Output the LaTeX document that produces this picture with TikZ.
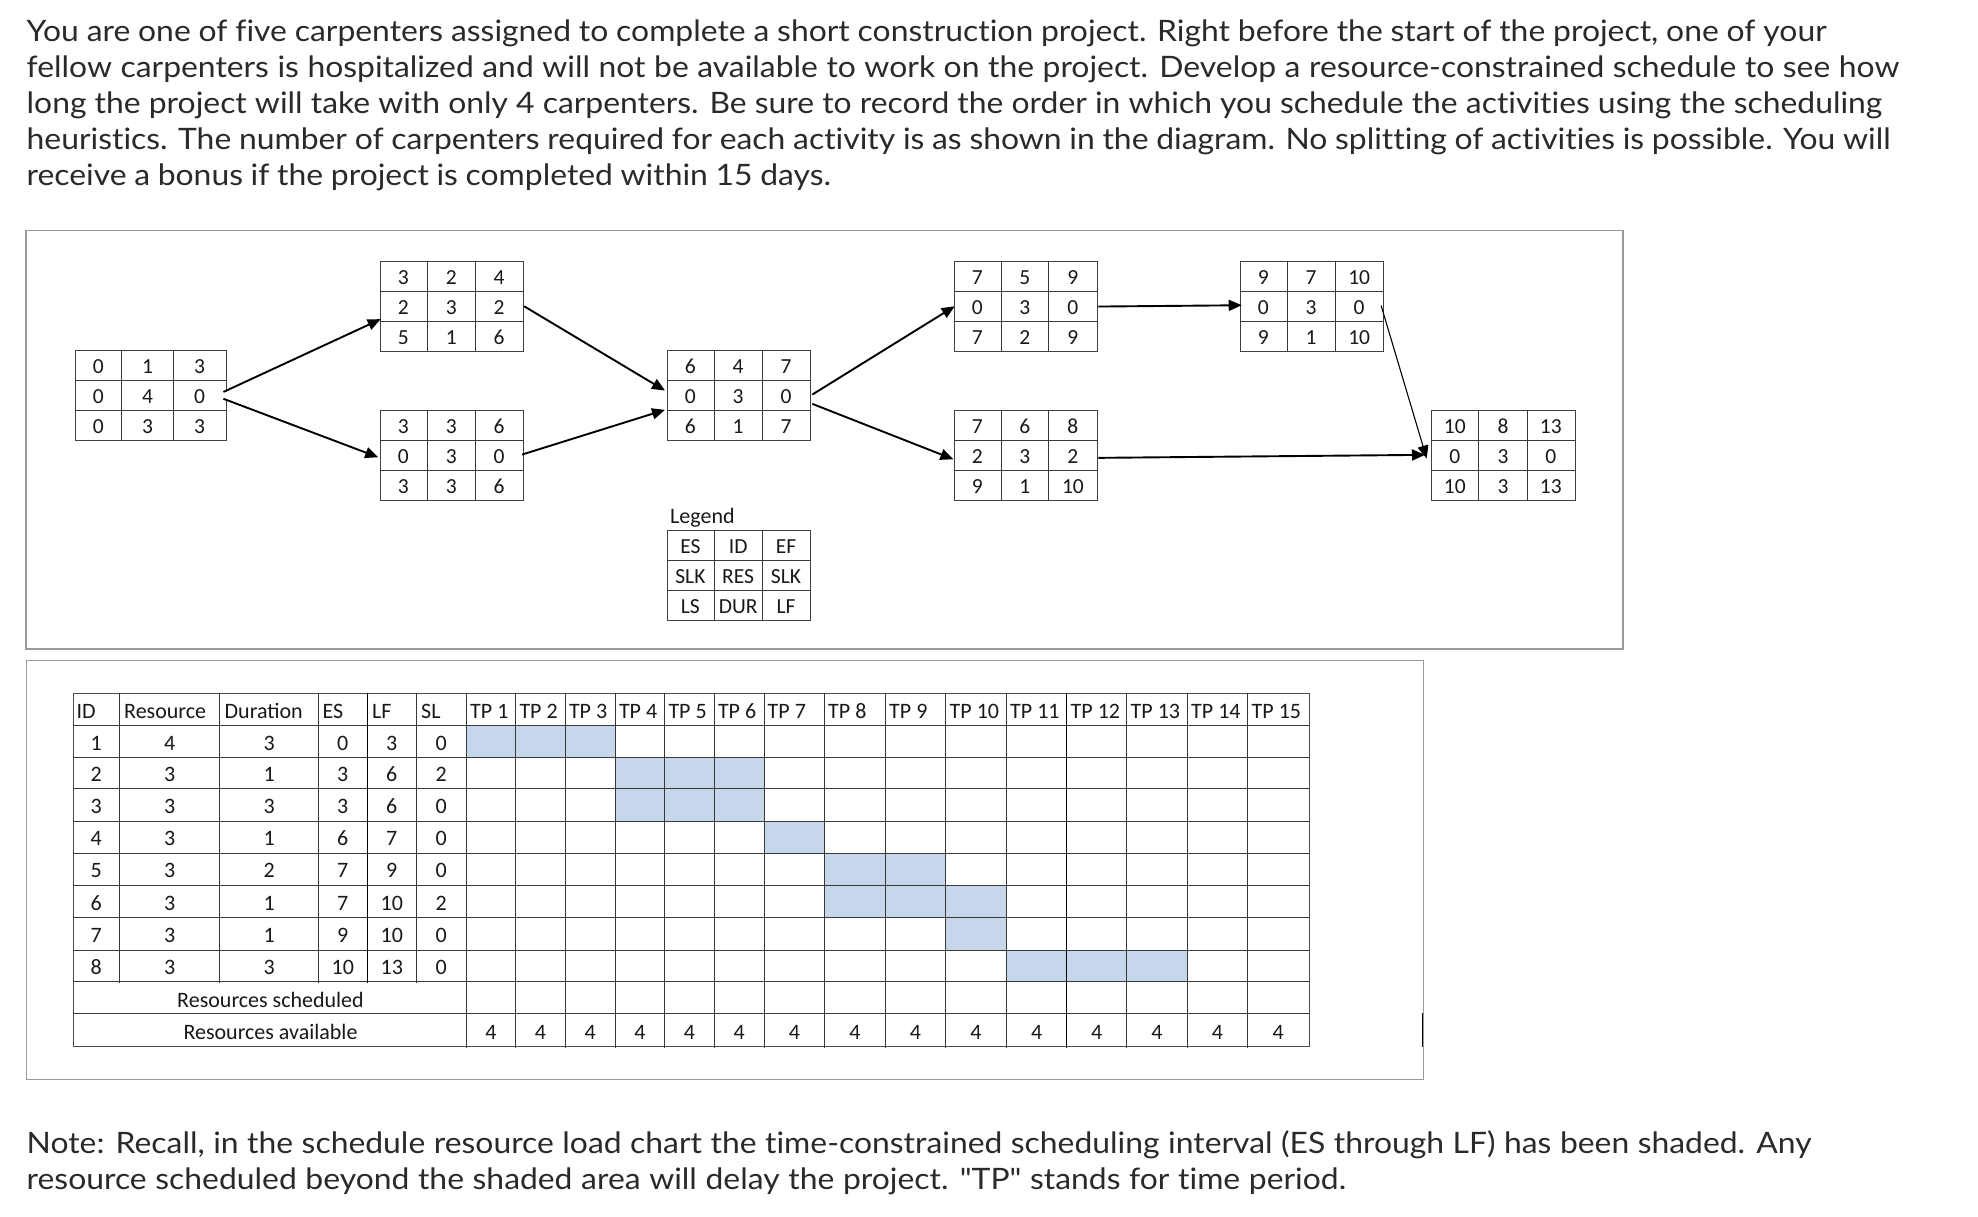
\documentclass[tikz,border=0pt]{standalone}
\usepackage{fontspec}
\setmainfont{Carlito}
\newfontfamily\bodyfont[Ligatures=NoCommon,FakeStretch=1.08]{Lato}
\usetikzlibrary{arrows.meta}
\definecolor{panelgray}{HTML}{9A9A9A}
\definecolor{schedblue}{HTML}{C6D7EC}
\definecolor{bodyink}{HTML}{2A2A2A}
\newcommand{\wordadj}[1]{\spaceskip=\dimexpr\fontdimen2\font+#1pt\relax}
\tikzset{
  panel/.style={draw=panelgray,line width=1.1pt,fill=white},
  boxframe/.style={draw=black!75,line width=1.1pt,anchor=north west,inner sep=0pt,minimum height=90pt},
  gridline/.style={draw=black!78,line width=1pt},
  heavygrid/.style={draw=black,line width=1.4pt},
  cellnum/.style={anchor=base,inner sep=0pt,font=\fontsize{21.5}{24}\selectfont,text=black!90},
  tabnum/.style={anchor=base,inner sep=0pt,font=\fontsize{22}{24}\selectfont,text=black!90},
  headtxt/.style={anchor=base west,inner sep=0pt,font=\fontsize{22}{24}\selectfont,text=black!90},
  bodyline/.style={anchor=base west,inner sep=0pt,font=\bodyfont\fontsize{29.5}{36}\selectfont,text=bodyink},
  link/.style={-{Triangle[length=13pt,width=11pt]},line width=1.9pt,draw=black},
  thinlink/.style={-{Triangle[length=13pt,width=11pt]},line width=1.1pt,draw=black},
}
% name, x0,x1,x2,x3, y0, nine values
\newcommand{\actbox}[7]{%
  \pgfmathsetmacro\bw{#5-#2}
  \node[boxframe,minimum width=\bw pt] (#1) at (#2,#6) {};
  \draw[gridline] (#3,#6) -- (#3,#6+90) (#4,#6) -- (#4,#6+90)
    (#2,#6+30) -- (#5,#6+30) (#2,#6+60) -- (#5,#6+60);
  \foreach \v [count=\k from 0] in {#7} {
    \pgfmathtruncatemacro\cc{mod(\k,3)}
    \pgfmathtruncatemacro\rr{div(\k,3)}
    \pgfmathsetmacro\xc{\cc==0?(#2+#3)/2:(\cc==1?(#3+#4)/2:(#4+#5)/2)}
    \node[cellnum] (#1-\k) at (\xc,#6+\rr*30+23) {\v};
  }
}
\begin{document}
\begin{tikzpicture}[x=1pt,y=-1pt]
\useasboundingbox (0,0) rectangle (1978,1216);
\fill[white] (0,0) rectangle (1978,1216);
% paragraph
\node[bodyline] (t1) at (26.5,41) {\wordadj{-0.33}You are one of five carpenters assigned to complete a short construction project. Right before the start of the project, one of your};
\node[bodyline] (t2) at (26.5,77) {\wordadj{0.38}fellow carpenters is hospitalized and will not be available to work on the project. Develop a resource-constrained schedule to see how};
\node[bodyline] (t3) at (26.5,113) {\wordadj{-0.05}long the project will take with only 4 carpenters. Be sure to record the order in which you schedule the activities using the scheduling};
\node[bodyline] (t4) at (26.5,149) {\wordadj{-0.45}heuristics. The number of carpenters required for each activity is as shown in the diagram. No splitting of activities is possible. You will};
\node[bodyline] (t5) at (26.5,185) {\wordadj{-0.5}receive a bonus if the project is completed within 15 days.};
\node[bodyline] (t6) at (26.5,1153) {\wordadj{0.35}Note: Recall, in the schedule resource load chart the time-constrained scheduling interval (ES through LF) has been shaded. Any};
\node[bodyline] (t7) at (26.5,1189) {\wordadj{0.47}resource scheduled beyond the shaded area will delay the project. "TP" stands for time period.};
% panels
\draw[panel] (26,230.5) rectangle (1623,649);
\draw[panel] (26.5,660.3) rectangle (1423.7,1079.3);
% network
\actbox{n1}{74.6}{121.8}{173.5}{225.8}{350}{0,1,3,0,4,0,0,3,3}
\actbox{n2}{379.5}{427.3}{475.1}{523}{261.3}{3,2,4,2,3,2,5,1,6}
\actbox{n3}{379.5}{427.3}{475.1}{523}{410}{3,3,6,0,3,0,3,3,6}
\actbox{n4}{666.5}{714.3}{762}{810}{350}{6,4,7,0,3,0,6,1,7}
\actbox{n5}{953.6}{1001}{1048.5}{1097.3}{261.3}{7,5,9,0,3,0,7,2,9}
\actbox{n6}{953.6}{1001}{1048.5}{1097.3}{410}{7,6,8,2,3,2,9,1,10}
\actbox{n7}{1239.6}{1287}{1335}{1383.3}{261.3}{9,7,10,0,3,0,9,1,10}
\actbox{n8}{1430.8}{1478.9}{1527}{1574.5}{410}{10,8,13,0,3,0,10,3,13}
\actbox{lg}{666.5}{714.3}{762}{810}{530}{ES,ID,EF,SLK,RES,SLK,LS,DUR,LF}
\node[headtxt] (lgt) at (670,523) {Legend};
% gap in the first box's edge where its two arrows leave
\draw[white,line width=1.6pt] ([yshift=3.4pt]n1.east) -- ([yshift=-3.4pt]n1.east);
% connectors
\draw[link] ([xshift=-3.5pt,yshift=3.6pt]n1.east) -- ([xshift=1.2pt,yshift=-12.3pt]n2.west);
\draw[link] ([xshift=-3.5pt,yshift=-3.2pt]n1.east) -- ([xshift=-1.3pt,yshift=-1.7pt]n3.west);
\draw[link] ([yshift=.6pt]n2.east) -- ([xshift=-1.5pt,yshift=5pt]n4.west);
\draw[link] ([xshift=-2pt,yshift=1pt]n3.east) -- ([xshift=-1.5pt,yshift=-14.3pt]n4.west);
\draw[link] ([xshift=1.2pt,yshift=1pt]n4.east) -- ([xshift=1.1pt,yshift=.6pt]n5.west);
\draw[link] ([xshift=1.2pt,yshift=-8.3pt]n4.east) -- ([xshift=-.2pt,yshift=-3.7pt]n6.west);
\draw[link] ([yshift=.3pt]n5.east) -- ([xshift=2.1pt,yshift=1.6pt]n7.west);
\draw[thinlink] ([xshift=-3.3pt,yshift=1.3pt]n7.east) -- ([xshift=-4.1pt,yshift=-3pt]n8.west);
\draw[link] ([yshift=-2.3pt]n6.east) -- ([xshift=-5.8pt,yshift=.7pt]n8.west);
% schedule shading
\fill[schedblue] (466.3,725.3) rectangle (615.3,757.3);
\fill[schedblue] (615.3,757.3) rectangle (764.3,821);
\fill[schedblue] (764.3,821) rectangle (824.6,853);
\fill[schedblue] (824.6,853) rectangle (945.7,917.7);
\fill[schedblue] (945.7,885.7) rectangle (1006.5,950);
\fill[schedblue] (1006.5,950) rectangle (1187.3,981.3);
% schedule grid
\node[draw=black!70,line width=1.4pt,anchor=north west,inner sep=0pt,minimum width=1235.9pt,minimum height=353.3pt] (tbl) at (73,692.7) {};
\foreach \y in {725.3,757.3,788.3,821,853,885.7,917.7,950,981.3,1013.7}
  \draw[gridline] (73,\y) -- (1309,\y);
\foreach \x in {119.4,219.9,318.4,416.3}
  \draw[gridline] (\x,692.7) -- (\x,983);
\draw[heavygrid] (367.3,692.7) -- (367.3,983);
\foreach \x in {466.3,515.8,565.3,615.3,664.8,714.3,764.3,824.6,885.4,945.7,1006.5,1126.6,1187.3,1247.6}
  \draw[gridline] (\x,692.7) -- (\x,1047.5);
\draw[heavygrid] (1066.7,692.7) -- (1066.7,1047.5);
\draw[heavygrid] (1422.7,1013) -- (1422.7,1047);
% header
\foreach \x/\s [count=\i] in {76.5/ID,124/Resource,224.5/Duration,322.4/ES,372/LF,421/SL,470/TP 1,519.3/TP 2,568.8/TP 3,618.8/TP 4,668.3/TP 5,717.8/TP 6,767.5/TP 7,828/TP 8,889/TP 9,949.5/TP 10,1010/TP 11,1070.5/TP 12,1130.5/TP 13,1191/TP 14,1251.5/TP 15}
  \node[headtxt] (h\i) at (\x,718.7) {\s};
% rows
\foreach \yb/\a/\b/\c/\d/\e/\f [count=\r] in {
  750/1/4/3/0/3/0, 781.5/2/3/1/3/6/2, 813.5/3/3/3/3/6/0, 845.5/4/3/1/6/7/0,
  877.5/5/3/2/7/9/0, 910/6/3/1/7/10/2, 942/7/3/1/9/10/0, 974/8/3/3/10/13/0} {
  \node[tabnum] (r\r a) at (96.2,\yb) {\a};
  \node[tabnum] (r\r b) at (169.6,\yb) {\b};
  \node[tabnum] (r\r c) at (269.1,\yb) {\c};
  \node[tabnum] (r\r d) at (342.8,\yb) {\d};
  \node[tabnum] (r\r e) at (391.8,\yb) {\e};
  \node[tabnum] (r\r f) at (441.3,\yb) {\f};
}
\node[tabnum] (rs) at (270.5,1007) {Resources scheduled};
\node[tabnum] (ra) at (270.5,1039) {Resources available};
\foreach \x [count=\i] in {491,540.5,590.3,640,689.5,739.3,794.5,855,915.5,976,1036.6,1096.6,1157,1217.5,1278.2}
  \node[tabnum] (av\i) at (\x,1039) {4};
\end{tikzpicture}
\end{document}
